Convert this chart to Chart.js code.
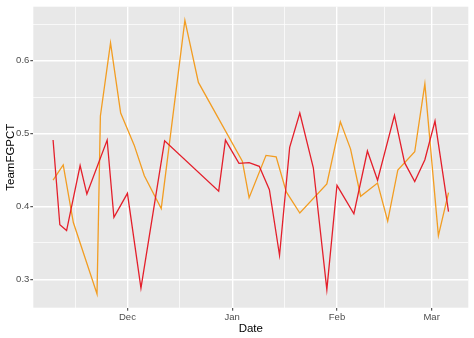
<!DOCTYPE html>
<html>
<head>
<meta charset="utf-8">
<script src="https://cdn.jsdelivr.net/npm/chart.js@4"></script>
<style>
  html, body { margin: 0; padding: 0; background: #ffffff; }
  #wrap { width: 474px; height: 338px; position: relative; }
</style>
</head>
<body>
<div id="wrap"><canvas id="fgChart"></canvas></div>
<script>
const redDates = ['2016-11-09', '2016-11-11', '2016-11-13', '2016-11-17', '2016-11-19', '2016-11-25', '2016-11-27',
    '2016-12-01', '2016-12-05', '2016-12-12', '2016-12-28', '2016-12-30', '2017-01-03', '2017-01-06', '2017-01-09',
    '2017-01-12', '2017-01-15', '2017-01-18', '2017-01-21', '2017-01-25', '2017-01-29', '2017-02-01', '2017-02-06',
    '2017-02-10', '2017-02-13', '2017-02-18', '2017-02-21', '2017-02-24', '2017-02-27', '2017-03-02', '2017-03-06'];
const redPct = [0.491, 0.375, 0.367, 0.456, 0.417, 0.491, 0.385,
    0.418, 0.288, 0.490, 0.421, 0.491, 0.459, 0.460, 0.455,
    0.423, 0.333, 0.481, 0.528, 0.453, 0.286, 0.429, 0.390,
    0.476, 0.436, 0.525, 0.460, 0.434, 0.464, 0.517, 0.393];

const orangeDates = ['2016-11-09', '2016-11-12', '2016-11-15', '2016-11-22', '2016-11-23', '2016-11-26', '2016-11-29',
    '2016-12-03', '2016-12-06', '2016-12-11', '2016-12-18', '2016-12-22', '2017-01-04', '2017-01-06', '2017-01-11',
    '2017-01-14', '2017-01-17', '2017-01-21', '2017-01-29', '2017-02-02', '2017-02-05', '2017-02-08', '2017-02-13',
    '2017-02-16', '2017-02-19', '2017-02-24', '2017-02-27', '2017-03-03', '2017-03-06'];
const orangePct = [0.436, 0.457, 0.378, 0.280, 0.524, 0.624, 0.528,
    0.484, 0.442, 0.397, 0.655, 0.570, 0.462, 0.412, 0.470,
    0.468, 0.420, 0.391, 0.431, 0.516, 0.479, 0.414, 0.432,
    0.380, 0.450, 0.475, 0.568, 0.360, 0.419];

const monthTicks = ['2016-12-01', '2017-01-01', '2017-02-01', '2017-03-01'];
const monthLabels = ['Dec', 'Jan', 'Feb', 'Mar'];
const yTicks = [0.3, 0.4, 0.5, 0.6];

// days counted from Dec 1 so the x axis can stay linear
const origin = Date.UTC(2016, 11, 1);
function toDay(s) {
    const p = s.split('-');
    return (Date.UTC(+p[0], +p[1] - 1, +p[2]) - origin) / 86400000;
}
const toPoints = (dates, vals) => dates.map((d, i) => ({ x: toDay(d), y: vals[i] }));

const majorX = monthTicks.map(toDay);
const minorX = [-15.5, 15.5, 46.5, 76];
const minorY = [0.35, 0.45, 0.55, 0.65];

// ggplot style 5% expansion
const allX = redDates.concat(orangeDates).map(toDay);
const allY = redPct.concat(orangePct);
const xMin = Math.min(...allX), xMax = Math.max(...allX);
const yMin = Math.min(...allY), yMax = Math.max(...allY);
const xPad = (xMax - xMin) * 0.05, yPad = (yMax - yMin) * 0.05;

const panelBg = {
    id: 'panelBg',
    beforeDraw(chart) {
        const a = chart.chartArea;
        chart.ctx.save();
        chart.ctx.fillStyle = '#e8e8e8';
        chart.ctx.fillRect(a.left, a.top, a.right - a.left, a.bottom - a.top);
        chart.ctx.restore();
    }
};

const isMajor = (list, v) => list.some(m => Math.abs(m - v) < 1e-6);

const ctx = document.getElementById('fgChart').getContext('2d');
new Chart(ctx, {
    type: 'line',
    data: {
        datasets: [
            {
                label: 'Team 1',
                data: toPoints(redDates, redPct),
                borderColor: '#e41f2b',
                borderWidth: 1.3,
                pointRadius: 0,
                tension: 0,
                fill: false
            },
            {
                label: 'Team 2',
                data: toPoints(orangeDates, orangePct),
                borderColor: '#f29d22',
                borderWidth: 1.3,
                pointRadius: 0,
                tension: 0,
                fill: false
            }
        ]
    },
    options: {
        responsive: true,
        maintainAspectRatio: false,
        animation: false,
        layout: { padding: { top: 5, right: 5.7, left: 0, bottom: 0 } },
        plugins: {
            legend: { display: false },
            tooltip: { enabled: false }
        },
        scales: {
            x: {
                type: 'linear',
                min: xMin - xPad,
                max: xMax + xPad,
                afterBuildTicks: scale => {
                    scale.ticks = majorX.concat(minorX).sort((a, b) => a - b).map(v => ({ value: v }));
                },
                afterFit: scale => { scale.height = 30.3; },
                ticks: {
                    autoSkip: false,
                    maxRotation: 0,
                    padding: 1,
                    color: '#4d4d4d',
                    font: { family: 'Liberation Sans', size: 9.5 },
                    callback: v => {
                        const i = majorX.findIndex(m => Math.abs(m - v) < 1e-6);
                        return i >= 0 ? monthLabels[i] : '';
                    }
                },
                grid: {
                    color: '#ffffff',
                    lineWidth: c => (c.tick && isMajor(majorX, c.tick.value) ? 1.4 : 0.7),
                    tickColor: c => (c.tick && isMajor(majorX, c.tick.value) ? '#333333' : 'rgba(0,0,0,0)'),
                    tickWidth: 1,
                    tickLength: 3
                },
                border: { display: false },
                title: {
                    display: true,
                    text: 'Date',
                    color: '#000000',
                    font: { family: 'Liberation Sans', size: 11.5 },
                    padding: { top: 2, bottom: 2.5 }
                }
            },
            y: {
                min: yMin - yPad,
                max: yMax + yPad,
                afterBuildTicks: scale => {
                    scale.ticks = yTicks.concat(minorY).sort((a, b) => a - b).map(v => ({ value: v }));
                },
                afterFit: scale => { scale.width = 33.3; },
                ticks: {
                    autoSkip: false,
                    padding: 1,
                    color: '#4d4d4d',
                    font: { family: 'Liberation Sans', size: 9.5 },
                    callback: v => (isMajor(yTicks, v) ? v.toFixed(1) : '')
                },
                grid: {
                    color: '#ffffff',
                    lineWidth: c => (c.tick && isMajor(yTicks, c.tick.value) ? 1.4 : 0.7),
                    tickColor: c => (c.tick && isMajor(yTicks, c.tick.value) ? '#333333' : 'rgba(0,0,0,0)'),
                    tickWidth: 1,
                    tickLength: 3
                },
                border: { display: false },
                title: {
                    display: true,
                    text: 'TeamFGPCT',
                    color: '#000000',
                    font: { family: 'Liberation Sans', size: 11.5 },
                    padding: { top: 3.5, bottom: 2 }
                }
            }
        }
    },
    plugins: [panelBg]
});
</script>
</body>
</html>
